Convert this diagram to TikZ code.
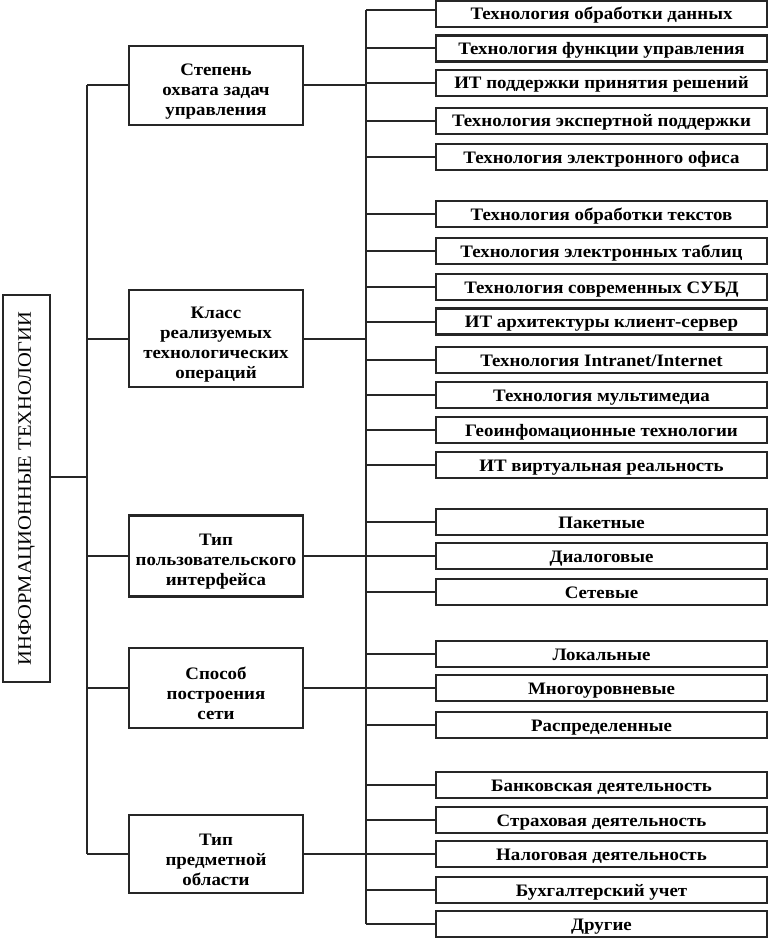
\documentclass[tikz,border=0pt]{standalone}
\usepackage{fontspec}
\setmainfont{Liberation Serif}[FakeStretch=1.08]
\newcommand\mytopstrut{\rule{0pt}{23pt}}
\begin{document}
\begin{tikzpicture}[x=1pt,y=-1pt,
  box/.style={draw=black!85,line width=2.2pt,inner sep=0pt,align=center},
  leaf/.style={box,minimum width=331pt,minimum height=26pt,text height=13pt,text depth=1pt,font=\fontsize{17.5}{20}\selectfont\bfseries},
  mid/.style={box,minimum width=174pt,font=\fontsize{17.5}{20}\selectfont\bfseries},
  ln/.style={draw=black!85,line width=2pt}]
\useasboundingbox (0,0) rectangle (769,939);
\node[box,rotate=90,minimum width=387pt,minimum height=47pt,font=\fontsize{19}{23}\selectfont] (main) at (26.5,488.5) {ИНФОРМАЦИОННЫЕ ТЕХНОЛОГИИ};
\coordinate (s1) at (87,0);
\coordinate (s2) at (366,0);
\coordinate (j0) at (87,477);
\coordinate (t0) at (366,10);
\node[mid,minimum height=79pt] (m1) at (216,85.5) {\mytopstrut Степень\\охвата задач\\управления};
\node[mid,minimum height=97pt] (m2) at (216,338.5) {\mytopstrut Класс\\реализуемых\\технологических\\операций};
\node[mid,minimum height=81pt] (m3) at (216,556) {\mytopstrut Тип\\пользовательского\\интерфейса};
\node[mid,minimum height=80pt] (m4) at (216,688) {\mytopstrut Способ\\построения\\сети};
\node[mid,minimum height=78pt] (m5) at (216,854) {\mytopstrut Тип\\предметной\\области};
\node[leaf] (l1) at (601.5,14) {Технология обработки данных};
\node[leaf] (l2) at (601.5,48.5) {Технология функции управления};
\node[leaf] (l3) at (601.5,83) {ИТ поддержки принятия решений};
\node[leaf] (l4) at (601.5,121) {Технология экспертной поддержки};
\node[leaf] (l5) at (601.5,157) {Технология электронного офиса};
\node[leaf] (l6) at (601.5,214) {Технология обработки текстов};
\node[leaf] (l7) at (601.5,251) {Технология электронных таблиц};
\node[leaf] (l8) at (601.5,287) {Технология современных СУБД};
\node[leaf] (l9) at (601.5,321.5) {ИТ архитектуры клиент-сервер};
\node[leaf] (l10) at (601.5,360) {Технология Intranet/Internet};
\node[leaf] (l11) at (601.5,395) {Технология мультимедиа};
\node[leaf] (l12) at (601.5,430) {Геоинфомационные технологии};
\node[leaf] (l13) at (601.5,465) {ИТ виртуальная реальность};
\node[leaf] (l14) at (601.5,522) {Пакетные};
\node[leaf] (l15) at (601.5,556) {Диалоговые};
\node[leaf] (l16) at (601.5,592) {Сетевые};
\node[leaf] (l17) at (601.5,654) {Локальные};
\node[leaf] (l18) at (601.5,688) {Многоуровневые};
\node[leaf] (l19) at (601.5,725) {Распределенные};
\node[leaf] (l20) at (601.5,785) {Банковская деятельность};
\node[leaf] (l21) at (601.5,820) {Страховая деятельность};
\node[leaf] (l22) at (601.5,854) {Налоговая деятельность};
\node[leaf] (l23) at (601.5,890) {Бухгалтерский учет};
\node[leaf] (l24) at (601.5,924) {Другие};
% main connector and first spine
\draw[ln] (j0 -| main.south) -- (j0);
\draw[ln] (m1.west -| s1) -- (m5.west -| s1);
\foreach \m in {m1,m2,m3,m4,m5}{
  \draw[ln] (\m.west) -- (\m.west -| s1);
  \draw[ln] (\m.east) -- (\m.east -| s2);
}
% second spine
\draw[ln] (t0) -- (l24.west -| s2);
\draw[ln] (t0) -- (t0 -| l1.west);
\foreach \l in {l2,l3,l4,l5,l6,l7,l8,l9,l10,l11,l12,l13,l14,l15,l16,l17,l18,l19,l20,l21,l22,l23,l24}{
  \draw[ln] (\l.west -| s2) -- (\l.west);
}
\end{tikzpicture}
\end{document}
